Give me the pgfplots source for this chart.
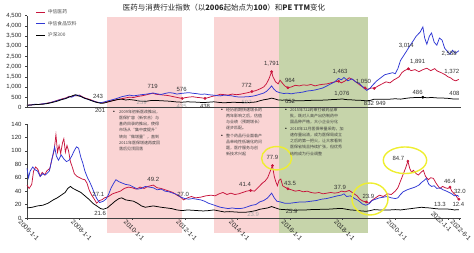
\documentclass[border=0pt]{standalone}
\usepackage{pgfplots}
\pgfplotsset{compat=1.18}
\usepackage{fontspec}
\setmainfont{Liberation Sans}
\newfontfamily\cjk{Noto Sans CJK SC}
\definecolor{redl}{HTML}{C8143C}
\definecolor{bluel}{HTML}{3038D4}
\definecolor{pinkbg}{HTML}{FAD4D4}
\definecolor{greenbg}{HTML}{C6D4AA}
\definecolor{yel}{HTML}{EEEE30}

\pgfplotstableread{
t v
2006.00 100
2006.15 115
2006.30 140
2006.45 135
2006.60 170
2006.75 200
2006.90 240
2007.05 300
2007.20 360
2007.35 420
2007.50 470
2007.60 540
2007.70 520
2007.80 580
2007.90 560
2008.00 600
2008.10 520
2008.20 460
2008.30 420
2008.40 380
2008.50 330
2008.60 280
2008.70 240
2008.80 215
2008.90 230
2009.00 260
2009.15 300
2009.30 340
2009.45 390
2009.60 420
2009.75 460
2009.90 500
2010.05 480
2010.20 530
2010.35 560
2010.50 600
2010.65 650
2010.78 690
2010.90 640
2011.05 620
2011.20 600
2011.35 580
2011.50 540
2011.65 500
2011.80 460
2011.90 435
2012.00 470
2012.15 500
2012.30 520
2012.45 490
2012.60 470
2012.77 438
2012.90 480
2013.05 540
2013.20 580
2013.35 640
2013.50 620
2013.65 600
2013.80 650
2013.95 620
2014.10 640
2014.25 680
2014.40 720
2014.55 772
2014.70 820
2014.85 900
2015.00 1000
2015.10 1150
2015.20 1400
2015.30 1750
2015.35 1500
2015.45 1250
2015.55 1150
2015.62 1330
2015.70 1200
2015.80 1050
2015.92 960
2016.05 1000
2016.20 1080
2016.35 1050
2016.50 1100
2016.65 1080
2016.80 1120
2016.95 1050
2017.10 1100
2017.25 1130
2017.40 1150
2017.55 1200
2017.70 1250
2017.85 1280
2017.95 1200
2018.10 1300
2018.25 1450
2018.40 1350
2018.55 1200
2018.70 1050
2018.85 949
2018.95 880
2019.10 950
2019.20 930
2019.35 1050
2019.50 1150
2019.65 1250
2019.80 1200
2019.95 1350
2020.05 1420
2020.15 1500
2020.25 1700
2020.35 1800
2020.50 1891
2020.60 1800
2020.75 1850
2020.90 1750
2021.05 1850
2021.20 1920
2021.35 1800
2021.50 1900
2021.60 1780
2021.75 1700
2021.90 1600
2022.00 1500
2022.10 1450
2022.20 1350
2022.30 1300
2022.42 1372
}\redidx

\pgfplotstableread{
t v
2006.00 100
2006.15 110
2006.30 150
2006.45 140
2006.60 170
2006.75 190
2006.90 230
2007.05 290
2007.20 350
2007.35 400
2007.50 450
2007.60 520
2007.70 500
2007.80 560
2007.90 600
2008.00 580
2008.10 500
2008.20 440
2008.30 400
2008.40 350
2008.50 320
2008.60 270
2008.70 243
2008.80 230
2008.90 250
2009.00 290
2009.15 340
2009.30 390
2009.45 450
2009.60 520
2009.75 560
2009.90 600
2010.05 560
2010.20 590
2010.35 620
2010.50 640
2010.65 670
2010.80 700
2010.95 660
2011.10 630
2011.25 680
2011.40 720
2011.55 700
2011.70 650
2011.85 680
2012.00 700
2012.15 720
2012.30 690
2012.45 670
2012.60 640
2012.77 650
2012.90 620
2013.05 600
2013.20 580
2013.35 560
2013.50 600
2013.65 580
2013.80 560
2013.95 520
2014.10 500
2014.25 510
2014.40 520
2014.55 540
2014.70 580
2014.85 640
2015.00 700
2015.10 780
2015.20 900
2015.30 1050
2015.38 900
2015.48 780
2015.60 720
2015.75 680
2015.92 690
2016.05 660
2016.20 700
2016.35 720
2016.50 750
2016.65 800
2016.80 820
2016.95 850
2017.10 900
2017.25 950
2017.40 1050
2017.55 1150
2017.70 1250
2017.85 1420
2017.95 1350
2018.05 1463
2018.20 1300
2018.35 1400
2018.50 1250
2018.65 1150
2018.80 950
2018.92 832
2019.05 950
2019.15 1100
2019.30 1300
2019.45 1450
2019.60 1600
2019.75 1650
2019.90 1700
2020.00 1650
2020.10 1900
2020.20 2300
2020.30 2500
2020.45 2800
2020.55 3014
2020.65 3200
2020.80 3500
2020.95 3700
2021.05 3950
2021.12 3400
2021.20 3100
2021.30 3500
2021.38 3650
2021.48 3200
2021.58 3050
2021.68 3400
2021.78 3300
2021.88 2900
2021.98 2750
2022.08 2600
2022.18 2800
2022.28 2650
2022.42 2780
}\blueidx

\pgfplotstableread{
t v
2006.00 100
2006.20 120
2006.40 140
2006.60 150
2006.80 190
2007.00 250
2007.15 300
2007.30 370
2007.45 420
2007.60 500
2007.75 580
2007.85 620
2007.95 560
2008.05 530
2008.20 440
2008.35 380
2008.50 300
2008.65 240
2008.80 201
2008.92 205
2009.05 250
2009.25 320
2009.45 380
2009.60 400
2009.75 360
2009.90 380
2010.10 350
2010.30 300
2010.50 290
2010.70 330
2010.90 340
2011.10 320
2011.30 310
2011.50 290
2011.70 260
2011.90 250
2012.10 270
2012.30 260
2012.50 250
2012.70 230
2012.90 250
2013.10 270
2013.30 240
2013.50 220
2013.70 240
2013.90 245
2014.10 230
2014.30 235
2014.50 240
2014.70 260
2014.85 320
2015.00 370
2015.15 400
2015.30 450
2015.40 420
2015.55 360
2015.70 350
2015.85 360
2016.05 310
2016.20 320
2016.40 320
2016.60 330
2016.80 340
2017.00 340
2017.20 350
2017.40 360
2017.60 380
2017.80 390
2018.00 410
2018.10 380
2018.30 370
2018.50 350
2018.70 340
2018.90 320
2019.05 340
2019.20 400
2019.40 390
2019.60 395
2019.80 400
2020.00 420
2020.20 400
2020.40 440
2020.60 470
2020.80 480
2021.05 490
2021.20 470
2021.40 480
2021.60 460
2021.80 455
2022.00 440
2022.20 410
2022.42 408
}\blackidx

\pgfplotstableread{
t v
2006.00 49
2006.08 44
2006.18 50
2006.25 70
2006.33 76
2006.42 72
2006.50 62
2006.58 68
2006.67 64
2006.75 70
2006.87 74
2006.95 88
2007.03 100
2007.10 124
2007.16 98
2007.22 108
2007.28 96
2007.35 112
2007.40 118
2007.46 98
2007.52 108
2007.58 100
2007.65 84
2007.72 76
2007.80 66
2007.90 62
2008.00 60
2008.10 58
2008.20 57
2008.28 52
2008.36 42
2008.46 34
2008.56 28
2008.65 22
2008.75 26
2008.84 27
2008.95 30
2009.10 32
2009.25 36
2009.40 38
2009.55 40
2009.70 44
2009.85 46
2010.00 45
2010.15 43
2010.30 46
2010.45 44
2010.60 47
2010.80 49
2010.95 45
2011.10 44
2011.25 42
2011.40 40
2011.55 38
2011.70 34
2011.85 31
2011.95 27
2012.10 30
2012.25 32
2012.40 30
2012.60 31
2012.80 33
2013.00 34
2013.15 33
2013.30 36
2013.45 38
2013.60 35
2013.75 37
2013.90 35
2014.05 36
2014.20 38
2014.35 40
2014.50 41
2014.65 40
2014.80 46
2014.95 52
2015.05 55
2015.15 60
2015.25 70
2015.33 78
2015.40 62
2015.46 54
2015.52 48
2015.58 56
2015.65 58
2015.72 48
2015.80 46
2015.92 43.5
2016.05 42
2016.20 40
2016.35 41
2016.50 39
2016.65 40
2016.80 38
2016.95 37
2017.10 38
2017.25 36
2017.40 37
2017.55 38
2017.70 37
2017.85 38
2017.95 40
2018.10 39
2018.25 41
2018.40 37
2018.55 33
2018.65 28
2018.78 25
2018.90 23.9
2019.00 22
2019.10 26
2019.25 30
2019.40 34
2019.55 32
2019.70 36
2019.85 35
2020.00 40
2020.10 45
2020.20 55
2020.30 65
2020.40 75
2020.48 84.7
2020.55 74
2020.62 68
2020.69 71
2020.80 66
2020.88 64
2020.98 68
2021.07 71
2021.15 62
2021.26 57
2021.35 60
2021.45 59
2021.55 52
2021.62 48
2021.70 44
2021.80 47
2021.90 45
2022.00 44
2022.08 46
2022.15 40
2022.22 37
2022.30 34
2022.36 30
2022.42 28
}\redpe

\pgfplotstableread{
t v
2006.00 74
2006.06 60
2006.12 70
2006.22 76
2006.30 72
2006.40 70
2006.50 62
2006.60 66
2006.70 64
2006.85 70
2006.95 88
2007.05 106
2007.12 92
2007.20 86
2007.30 94
2007.40 88
2007.50 84
2007.60 86
2007.70 92
2007.78 99
2007.88 106
2007.96 104
2008.05 90
2008.12 82
2008.20 70
2008.30 60
2008.38 54
2008.46 47
2008.55 38
2008.65 29
2008.76 23
2008.90 25
2009.00 28
2009.10 35
2009.20 45
2009.30 52
2009.38 57
2009.50 54
2009.62 52
2009.75 50
2009.90 49
2010.05 46
2010.20 43
2010.35 44
2010.50 47
2010.65 46
2010.80 45
2010.95 42
2011.10 43
2011.25 40
2011.40 39
2011.55 37
2011.70 35
2011.85 31
2012.00 29
2012.15 28
2012.30 29
2012.45 28
2012.60 27
2012.75 25
2012.90 22
2013.05 20
2013.20 18
2013.35 16
2013.50 15
2013.65 14
2013.80 15
2013.95 14
2014.10 14
2014.25 15
2014.40 17
2014.55 19
2014.70 20
2014.85 24
2015.00 26
2015.15 30
2015.30 37
2015.40 30
2015.50 25
2015.62 24
2015.80 22
2016.00 22
2016.20 23
2016.40 24
2016.60 24
2016.80 25
2017.00 26
2017.20 28
2017.40 29
2017.60 31
2017.80 33
2017.95 34
2018.05 36
2018.15 32
2018.30 33
2018.45 29
2018.60 26
2018.75 21
2018.88 19
2019.00 21
2019.12 26
2019.25 28
2019.40 30
2019.55 31
2019.70 32
2019.85 30
2020.00 29
2020.10 30
2020.20 35
2020.30 39
2020.45 42
2020.60 44
2020.75 46
2020.90 49
2021.00 53
2021.10 56
2021.18 59
2021.28 50
2021.38 47
2021.48 48
2021.58 44
2021.70 45
2021.82 42
2021.95 40
2022.05 38
2022.15 36
2022.25 33
2022.35 34
2022.42 32
}\bluepe

\pgfplotstableread{
t v
2006.00 15
2006.20 16
2006.40 18
2006.60 19
2006.80 22
2007.00 27
2007.15 30
2007.30 34
2007.45 38
2007.55 44
2007.65 47
2007.75 44
2007.85 42
2007.95 40
2008.05 38
2008.20 33
2008.35 28
2008.50 22
2008.65 18
2008.80 14
2008.90 13
2009.05 15
2009.20 20
2009.35 25
2009.50 29
2009.60 30
2009.75 27
2009.90 26
2010.05 25
2010.20 22
2010.35 18
2010.50 16
2010.65 17
2010.80 18
2010.95 17
2011.10 16
2011.30 15
2011.50 14
2011.70 12
2011.90 11
2012.10 12
2012.30 11.5
2012.50 11
2012.70 10.5
2012.90 11
2013.10 12
2013.30 10.5
2013.50 9
2013.70 9.5
2013.90 9
2014.10 8.5
2014.30 8.5
2014.50 9.5
2014.70 11
2014.85 13
2015.00 14
2015.15 15
2015.30 17
2015.45 15
2015.60 13
2015.80 12.5
2016.00 12
2016.20 11.5
2016.40 12
2016.60 12
2016.80 12.5
2017.00 12.5
2017.20 13
2017.40 13
2017.60 13.5
2017.80 14
2018.00 14
2018.15 13
2018.30 12
2018.50 11.5
2018.70 10.5
2018.90 10
2019.05 11
2019.20 12.5
2019.40 12
2019.60 12
2019.80 12
2020.00 12.5
2020.20 12
2020.40 13
2020.60 14
2020.80 15
2021.00 16
2021.10 15.5
2021.30 15
2021.50 14
2021.70 13.3
2021.90 13.5
2022.10 13
2022.25 12
2022.42 12.4
}\blackpe

\pgfplotsset{
  base/.style={
    scale only axis, width=434pt, xmin=2006, xmax=2022.5,
    axis x line=bottom, axis y line=left,
    axis line style={-, black!75, line width=0.5pt},
    tick style={black!75, line width=0.4pt}, major tick length=2pt, tick align=outside,
    every tick label/.append style={font=\fontsize{6}{7}\selectfont, text=black!85},
    /pgf/number format/assume math mode=true,
    scaled ticks=false,
    clip=false,
  },
}
\tikzset{
  lab/.style={font=\fontsize{6}{7}\selectfont, text=black!80, inner sep=0pt},
  faint/.style={font=\fontsize{6}{7}\selectfont, text=black!35, inner sep=0pt},
  ann/.style={font=\cjk\fontsize{4}{6.3}\selectfont, align=left, inner sep=0pt, anchor=north west, text=black!75},
  bul/.style={font=\fontsize{5}{6}\selectfont, inner sep=0pt, anchor=north west},
}

\begin{document}
\begin{tikzpicture}
\begin{axis}[base, at={(27pt,145.7pt)}, anchor=south west, height=91.6pt,
  ymin=0, ymax=4500, ytick={0,500,...,4500}, xtick=\empty, axis on top,
  legend style={at={(0.02,1.09)}, anchor=north west, draw=none, fill=none,
    font=\cjk\fontsize{4.8}{5}\selectfont, row sep=2pt, inner sep=0pt, text=black!70},
  legend cell align=left,
  legend image code/.code={\draw[#1, line width=1pt] (0pt,0pt) -- (9pt,0pt);}]
\fill[pinkbg] (axis cs:2009.04,-6172) rectangle (axis cs:2011.9,4434);
\fill[pinkbg] (axis cs:2013.11,-6172) rectangle (axis cs:2015.58,4434);
\fill[greenbg] (axis cs:2015.58,-6172) rectangle (axis cs:2018.97,4434);
\addplot[redl, line width=0.75pt] table[x=t,y=v] {\redidx};
\addlegendentry{中信医药}
\addplot[bluel, line width=0.75pt] table[x=t,y=v] {\blueidx};
\addlegendentry{中信食品饮料}
\addplot[black, line width=0.75pt] table[x=t,y=v] {\blackidx};
\addlegendentry{沪深300}
\addplot[only marks, mark=*, mark size=1.2pt, color=redl, forget plot] coordinates {
 (2011.90,435) (2012.77,438) (2014.55,772) (2015.30,1750) (2015.92,960)
 (2017.85,1280) (2018.85,949) (2019.20,930) (2020.50,1891)};
\addplot[only marks, mark=*, mark size=1.2pt, color=black, forget plot] coordinates {(2021.05,490)};
\node[lab] at (axis cs:2008.70,555) {243};
\node[lab] at (axis cs:2008.78,-140) {201};
\node[lab] at (axis cs:2010.78,1046) {719};
\node[lab] at (axis cs:2011.88,884) {576};
\node[faint] at (axis cs:2010.36,226) {259};
\node[faint] at (axis cs:2011.88,30) {435};
\node[lab] at (axis cs:2012.77,30) {438};
\node[lab] at (axis cs:2014.35,1095) {772};
\node[faint] at (axis cs:2014.35,226) {597};
\node[lab] at (axis cs:2015.30,2160) {1,791};
\node[lab] at (axis cs:2016.00,1340) {964};
\node[lab] at (axis cs:2016.00,275) {652};
\node[lab] at (axis cs:2017.90,1748) {1,463};
\node[lab] at (axis cs:2017.97,653) {1,076};
\node[lab] at (axis cs:2018.79,1257) {1,050};
\node[lab] at (axis cs:2019.00,200) {832};
\node[lab] at (axis cs:2019.45,200) {949};
\node[lab] at (axis cs:2020.42,3000) {3,014};
\node[lab] at (axis cs:2022.05,2650) {2,558};
\node[lab] at (axis cs:2020.85,2250) {1,891};
\node[lab] at (axis cs:2022.15,1720) {1,372};
\node[lab] at (axis cs:2020.85,750) {486};
\node[lab] at (axis cs:2022.25,700) {408};
\end{axis}

\begin{axis}[base, at={(27pt,35pt)}, anchor=south west, height=94pt,
  ymin=0, ymax=140, ytick={0,20,40,60,80,100,120,140},
  xtick={2006,2008,2010,2012,2014,2016,2018,2020,2022.42},
  xticklabels={2006-1-1,2008-1-1,2010-1-1,2012-1-1,2014-1-1,2016-1-1,2018-1-1,2020-1-1,2022-6-1},
  xticklabel style={rotate=-45, anchor=north west, xshift=-8pt, font=\fontsize{6.5}{7}\selectfont},
  extra x ticks={2022}, extra x tick labels={2022-1-1},
  extra x tick style={xticklabel style={xshift=-12pt}}]
\addplot[redl, line width=0.75pt] table[x=t,y=v] {\redpe};
\addplot[bluel, line width=0.75pt] table[x=t,y=v] {\bluepe};
\addplot[black, line width=0.75pt] table[x=t,y=v] {\blackpe};
\addplot[only marks, mark=*, mark size=1.2pt, color=redl] coordinates {
 (2014.50,41) (2015.33,78) (2015.92,43.5) (2018.90,23.9) (2020.48,84.7) (2022.08,46) (2022.42,28)};
\node[lab] at (axis cs:2008.71,35.7) {27.1};
\node[lab] at (axis cs:2008.78,7) {21.6};
\node[lab] at (axis cs:2010.80,58) {49.2};
\node[lab] at (axis cs:2011.94,35.7) {27.0};
\node[lab] at (axis cs:2014.29,50) {41.4};
\node[lab] at (axis cs:2015.33,90) {77.9};
\node[lab] at (axis cs:2016.00,51.7) {43.5};
\node[faint] at (axis cs:2014.60,6) {23.9};
\node[lab] at (axis cs:2016.06,10) {25.9};
\node[lab] at (axis cs:2017.90,45) {37.9};
\node[lab] at (axis cs:2018.98,31.7) {23.9};
\node[lab] at (axis cs:2020.12,89) {84.7};
\node[lab] at (axis cs:2022.08,54) {46.4};
\node[lab] at (axis cs:2022.46,39) {32.0};
\node[lab] at (axis cs:2021.70,20.4) {13.3};
\node[lab] at (axis cs:2022.40,20.4) {12.4};
\draw[yel, line width=1.4pt] (axis cs:2015.49,89) ellipse [x radius=15pt, y radius=11.7pt];
\draw[yel, line width=1.4pt] (axis cs:2019.04,28.3) ellipse [x radius=18pt, y radius=16pt];
\draw[yel, line width=1.4pt] (axis cs:2020.37,86) ellipse [x radius=21.7pt, y radius=13.3pt];
\end{axis}

% title
\node[font=\cjk\fontsize{7.5}{8}\selectfont, text=black!85] at (224pt,245.7pt) {医药与消费行业指数（以\textbf{2006}起始点为\textbf{100}）和\textbf{PE TTM}变化};

% annotations
\node[bul] at (113pt,142pt) {\textbullet};
\node[ann] at (119pt,143.5pt) {2009年初新医改推出，\\医保扩容（新农合）与\\基药目录的推出，使得\\市场从“集中度提升”\\转向“做增量”，直到\\2011年医保增速再度回\\落后见顶回落};

\node[bul] at (221pt,144pt) {\textbullet};
\node[ann] at (226pt,145.5pt) {经历前期快速增长的\\两年影响之后，估值\\与业绩（预期增长）\\逐步匹配。};
\node[bul] at (221pt,118pt) {\textbullet};
\node[ann] at (226pt,119.5pt) {整个药品行业面临产\\品单纯性低端化的问\\题，医疗服务与创\\新技术兴起};

\node[bul] at (285pt,144pt) {\textbullet};
\node[ann] at (290pt,145.5pt) {2015年722药审打破药品审\\批，既对人高产出仿制药中\\国品种严格，大小企业分化};
\node[bul] at (285pt,125pt) {\textbullet};
\node[ann] at (290pt,126.5pt) {2018年12月医保带量采购，加\\速存量出清，成为医保局成立\\之后的第一把火，让大家看到\\医保省钱且持续扩张，但优秀\\结构成为行业调整};

\pgfresetboundingbox
\path[use as bounding box] (0pt,0pt) rectangle (474pt,253pt);
\end{tikzpicture}
\end{document}
